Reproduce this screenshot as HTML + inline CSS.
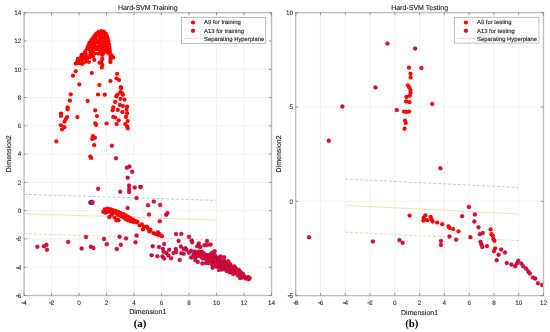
<!DOCTYPE html>
<html><head><meta charset="utf-8"><style>
html,body{margin:0;padding:0;background:#fff;width:550px;height:332px;overflow:hidden}
svg{display:block} text{text-rendering:geometricPrecision;stroke:#262626;stroke-width:0.14px;paint-order:stroke}
</style></head><body>
<svg width="550" height="332" viewBox="0 0 550 332" font-family="Liberation Sans, Arial, sans-serif">
<rect width="550" height="332" fill="#fff"/>
<line x1="51.54" y1="12.7" x2="51.54" y2="295.5" stroke="#efefef" stroke-width="0.8"/>
<line x1="79.04" y1="12.7" x2="79.04" y2="295.5" stroke="#efefef" stroke-width="0.8"/>
<line x1="106.53" y1="12.7" x2="106.53" y2="295.5" stroke="#efefef" stroke-width="0.8"/>
<line x1="134.03" y1="12.7" x2="134.03" y2="295.5" stroke="#efefef" stroke-width="0.8"/>
<line x1="161.52" y1="12.7" x2="161.52" y2="295.5" stroke="#efefef" stroke-width="0.8"/>
<line x1="189.02" y1="12.7" x2="189.02" y2="295.5" stroke="#efefef" stroke-width="0.8"/>
<line x1="216.51" y1="12.7" x2="216.51" y2="295.5" stroke="#efefef" stroke-width="0.8"/>
<line x1="244.01" y1="12.7" x2="244.01" y2="295.5" stroke="#efefef" stroke-width="0.8"/>
<line x1="24.05" y1="267.22" x2="271.5" y2="267.22" stroke="#efefef" stroke-width="0.8"/>
<line x1="24.05" y1="238.94" x2="271.5" y2="238.94" stroke="#efefef" stroke-width="0.8"/>
<line x1="24.05" y1="210.66" x2="271.5" y2="210.66" stroke="#efefef" stroke-width="0.8"/>
<line x1="24.05" y1="182.38" x2="271.5" y2="182.38" stroke="#efefef" stroke-width="0.8"/>
<line x1="24.05" y1="154.10" x2="271.5" y2="154.10" stroke="#efefef" stroke-width="0.8"/>
<line x1="24.05" y1="125.82" x2="271.5" y2="125.82" stroke="#efefef" stroke-width="0.8"/>
<line x1="24.05" y1="97.54" x2="271.5" y2="97.54" stroke="#efefef" stroke-width="0.8"/>
<line x1="24.05" y1="69.26" x2="271.5" y2="69.26" stroke="#efefef" stroke-width="0.8"/>
<line x1="24.05" y1="40.98" x2="271.5" y2="40.98" stroke="#efefef" stroke-width="0.8"/>
<line x1="24.10" y1="194.30" x2="216.60" y2="200.40" stroke="#cfaadc" stroke-width="0.8" stroke-dasharray="3,1.9"/>
<line x1="24.10" y1="213.80" x2="216.60" y2="220.10" stroke="#fbd79c" stroke-width="0.8"/>
<line x1="24.10" y1="233.60" x2="216.60" y2="240.00" stroke="#c6dca8" stroke-width="0.8" stroke-dasharray="3,1.9"/>
<polygon points="98.51,31.94 96.11,33.74 94.09,36.32 92.03,39.06 89.4,42.92 87.98,46.87 87.91,47.05 85.31,52.55 85.21,52.73 85.1,52.89 84.98,53.05 81.88,56.45 81.68,56.64 78.93,58.93 76.68,62.57 76.75,62.76 78.83,63.17 82.66,62.55 86.94,61.28 89.41,57.64 91.47,54.09 91.58,53.93 91.69,53.78 91.82,53.65 91.97,53.52 92.12,53.41 92.29,53.32 92.46,53.24 92.64,53.18 92.82,53.14 93.01,53.11 93.2,53.1 96.8,53.1 96.98,53.11 97.16,53.13 97.33,53.17 97.5,53.23 97.67,53.3 99.16,54.02 99.21,53.97 99.37,53.85 99.54,53.75 99.71,53.66 99.9,53.59 100.09,53.54 100.28,53.51 103.36,53.17 105.04,51.97 105.21,51.86 105.39,51.77 105.57,51.7 105.77,51.65 105.96,51.61 106.16,51.6 106.36,51.61 106.56,51.63 106.76,51.68 106.95,51.75 107.13,51.83 107.3,51.93 107.47,52.05 107.61,52.19 109.77,54.34 110.6,55.07 110.1,53.52 110.04,53.31 110.01,53.09 109.32,45.99 107.97,39.05 105.98,33.81 103.73,31.56 101.82,30.94 100.34,31.14 98.51,31.94" fill="#ff0000"/>
<polygon points="103.35,211.76 103.46,212.59 103.89,212.85 106.49,212.64 109.67,211.18 109.86,211.11 110.05,211.05 110.25,211.02 110.45,211.0 110.65,211.01 110.85,211.03 111.05,211.08 114.55,212.08 114.75,212.14 114.94,212.23 115.11,212.34 115.28,212.46 118.1,214.81 122.89,217.21 123.03,217.29 123.16,217.37 127.37,220.37 131.28,221.46 136.31,222.54 137.02,222.69 136.78,221.81 132.69,219.43 132.67,219.42 125.57,215.18 118.46,211.96 115.35,210.89 115.34,210.89 109.52,208.85 106.6,208.43 105.1,208.79 104.04,210.05 103.35,211.76" fill="#ff0000"/>
<circle cx="98.5" cy="31.9" r="2.12" fill="#ff0000"/>
<circle cx="96.3" cy="33.6" r="2.12" fill="#ff0000"/>
<circle cx="94.5" cy="35.8" r="2.12" fill="#ff0000"/>
<circle cx="92.8" cy="38.0" r="2.12" fill="#ff0000"/>
<circle cx="91.2" cy="40.3" r="2.12" fill="#ff0000"/>
<circle cx="89.6" cy="42.6" r="2.12" fill="#ff0000"/>
<circle cx="88.6" cy="45.2" r="2.12" fill="#ff0000"/>
<circle cx="87.5" cy="47.9" r="2.12" fill="#ff0000"/>
<circle cx="86.3" cy="50.4" r="2.12" fill="#ff0000"/>
<circle cx="85.1" cy="52.9" r="2.12" fill="#ff0000"/>
<circle cx="83.2" cy="55.0" r="2.12" fill="#ff0000"/>
<circle cx="81.2" cy="57.0" r="2.12" fill="#ff0000"/>
<circle cx="79.1" cy="58.8" r="2.12" fill="#ff0000"/>
<circle cx="77.6" cy="61.1" r="2.12" fill="#ff0000"/>
<circle cx="77.7" cy="62.9" r="2.12" fill="#ff0000"/>
<circle cx="80.4" cy="62.9" r="2.12" fill="#ff0000"/>
<circle cx="83.2" cy="62.4" r="2.12" fill="#ff0000"/>
<circle cx="85.9" cy="61.6" r="2.12" fill="#ff0000"/>
<circle cx="87.9" cy="59.9" r="2.12" fill="#ff0000"/>
<circle cx="89.5" cy="57.5" r="2.12" fill="#ff0000"/>
<circle cx="90.9" cy="55.1" r="2.12" fill="#ff0000"/>
<circle cx="92.7" cy="53.2" r="2.12" fill="#ff0000"/>
<circle cx="95.5" cy="53.1" r="2.12" fill="#ff0000"/>
<circle cx="98.2" cy="53.6" r="2.12" fill="#ff0000"/>
<circle cx="100.8" cy="53.5" r="2.12" fill="#ff0000"/>
<circle cx="103.6" cy="53.0" r="2.12" fill="#ff0000"/>
<circle cx="106.0" cy="51.6" r="2.12" fill="#ff0000"/>
<circle cx="108.3" cy="52.9" r="2.12" fill="#ff0000"/>
<circle cx="110.3" cy="54.8" r="2.12" fill="#ff0000"/>
<circle cx="110.0" cy="52.7" r="2.12" fill="#ff0000"/>
<circle cx="109.7" cy="49.9" r="2.12" fill="#ff0000"/>
<circle cx="109.4" cy="47.1" r="2.12" fill="#ff0000"/>
<circle cx="109.0" cy="44.3" r="2.12" fill="#ff0000"/>
<circle cx="108.5" cy="41.6" r="2.12" fill="#ff0000"/>
<circle cx="107.9" cy="38.8" r="2.12" fill="#ff0000"/>
<circle cx="106.9" cy="36.2" r="2.12" fill="#ff0000"/>
<circle cx="105.8" cy="33.6" r="2.12" fill="#ff0000"/>
<circle cx="103.8" cy="31.6" r="2.12" fill="#ff0000"/>
<circle cx="101.2" cy="31.0" r="2.12" fill="#ff0000"/>
<circle cx="103.3" cy="211.8" r="2.12" fill="#ff0000"/>
<circle cx="105.4" cy="212.7" r="2.12" fill="#ff0000"/>
<circle cx="108.1" cy="211.9" r="2.12" fill="#ff0000"/>
<circle cx="110.7" cy="211.0" r="2.12" fill="#ff0000"/>
<circle cx="113.5" cy="211.8" r="2.12" fill="#ff0000"/>
<circle cx="116.0" cy="213.1" r="2.12" fill="#ff0000"/>
<circle cx="118.2" cy="214.9" r="2.12" fill="#ff0000"/>
<circle cx="120.7" cy="216.1" r="2.12" fill="#ff0000"/>
<circle cx="123.3" cy="217.4" r="2.12" fill="#ff0000"/>
<circle cx="125.6" cy="219.1" r="2.12" fill="#ff0000"/>
<circle cx="128.0" cy="220.5" r="2.12" fill="#ff0000"/>
<circle cx="130.8" cy="221.3" r="2.12" fill="#ff0000"/>
<circle cx="133.5" cy="221.9" r="2.12" fill="#ff0000"/>
<circle cx="136.3" cy="222.5" r="2.12" fill="#ff0000"/>
<circle cx="135.7" cy="221.2" r="2.12" fill="#ff0000"/>
<circle cx="133.3" cy="219.8" r="2.12" fill="#ff0000"/>
<circle cx="130.8" cy="218.3" r="2.12" fill="#ff0000"/>
<circle cx="128.4" cy="216.8" r="2.12" fill="#ff0000"/>
<circle cx="125.9" cy="215.4" r="2.12" fill="#ff0000"/>
<circle cx="123.3" cy="214.2" r="2.12" fill="#ff0000"/>
<circle cx="120.7" cy="213.0" r="2.12" fill="#ff0000"/>
<circle cx="118.1" cy="211.8" r="2.12" fill="#ff0000"/>
<circle cx="115.4" cy="210.9" r="2.12" fill="#ff0000"/>
<circle cx="112.8" cy="210.0" r="2.12" fill="#ff0000"/>
<circle cx="110.1" cy="209.0" r="2.12" fill="#ff0000"/>
<circle cx="107.3" cy="208.5" r="2.12" fill="#ff0000"/>
<circle cx="104.7" cy="209.3" r="2.12" fill="#ff0000"/>
<circle cx="78.7" cy="59.2" r="2.12" fill="#ff0000"/>
<circle cx="75.7" cy="63.7" r="2.12" fill="#ff0000"/>
<circle cx="79.3" cy="62.8" r="2.12" fill="#ff0000"/>
<circle cx="82.3" cy="64.0" r="2.12" fill="#ff0000"/>
<circle cx="85.9" cy="59.8" r="2.12" fill="#ff0000"/>
<circle cx="88.9" cy="62.0" r="2.12" fill="#ff0000"/>
<circle cx="94.3" cy="59.8" r="2.12" fill="#ff0000"/>
<circle cx="77.9" cy="58.8" r="2.12" fill="#ff0000"/>
<circle cx="79.9" cy="61.1" r="2.12" fill="#ff0000"/>
<circle cx="85.7" cy="56.8" r="2.12" fill="#ff0000"/>
<circle cx="99.5" cy="62.7" r="2.12" fill="#ff0000"/>
<circle cx="87.8" cy="58.5" r="2.12" fill="#ff0000"/>
<circle cx="81.6" cy="54.8" r="2.12" fill="#ff0000"/>
<circle cx="84.8" cy="52.6" r="2.12" fill="#ff0000"/>
<circle cx="89.7" cy="56.6" r="2.12" fill="#ff0000"/>
<circle cx="93.0" cy="56.5" r="2.12" fill="#ff0000"/>
<circle cx="102.3" cy="55.0" r="2.12" fill="#ff0000"/>
<circle cx="102.3" cy="58.9" r="2.12" fill="#ff0000"/>
<circle cx="101.3" cy="62.1" r="2.12" fill="#ff0000"/>
<circle cx="102.3" cy="64.8" r="2.12" fill="#ff0000"/>
<circle cx="101.8" cy="67.5" r="2.12" fill="#ff0000"/>
<circle cx="110.5" cy="57.0" r="2.12" fill="#ff0000"/>
<circle cx="110.4" cy="59.8" r="2.12" fill="#ff0000"/>
<circle cx="110.4" cy="62.1" r="2.12" fill="#ff0000"/>
<circle cx="111.9" cy="55.7" r="2.12" fill="#ff0000"/>
<circle cx="113.2" cy="57.5" r="2.12" fill="#ff0000"/>
<circle cx="75.7" cy="71.3" r="2.12" fill="#ff0000"/>
<circle cx="73.0" cy="75.7" r="2.12" fill="#ff0000"/>
<circle cx="91.8" cy="73.0" r="2.12" fill="#ff0000"/>
<circle cx="79.3" cy="84.4" r="2.12" fill="#ff0000"/>
<circle cx="99.4" cy="85.0" r="2.12" fill="#ff0000"/>
<circle cx="70.8" cy="94.3" r="2.12" fill="#ff0000"/>
<circle cx="69.9" cy="100.7" r="2.12" fill="#ff0000"/>
<circle cx="87.6" cy="100.9" r="2.12" fill="#ff0000"/>
<circle cx="67.6" cy="107.4" r="2.12" fill="#ff0000"/>
<circle cx="67.6" cy="109.3" r="2.12" fill="#ff0000"/>
<circle cx="61.0" cy="113.7" r="2.12" fill="#ff0000"/>
<circle cx="61.0" cy="116.0" r="2.12" fill="#ff0000"/>
<circle cx="67.1" cy="117.1" r="2.12" fill="#ff0000"/>
<circle cx="65.7" cy="119.0" r="2.12" fill="#ff0000"/>
<circle cx="64.6" cy="121.6" r="2.12" fill="#ff0000"/>
<circle cx="61.0" cy="125.3" r="2.12" fill="#ff0000"/>
<circle cx="64.4" cy="127.2" r="2.12" fill="#ff0000"/>
<circle cx="62.0" cy="129.5" r="2.12" fill="#ff0000"/>
<circle cx="77.4" cy="117.1" r="2.12" fill="#ff0000"/>
<circle cx="56.3" cy="141.4" r="2.12" fill="#ff0000"/>
<circle cx="98.0" cy="94.5" r="2.12" fill="#ff0000"/>
<circle cx="104.8" cy="94.7" r="2.12" fill="#ff0000"/>
<circle cx="117.1" cy="73.8" r="2.12" fill="#ff0000"/>
<circle cx="116.5" cy="78.3" r="2.12" fill="#ff0000"/>
<circle cx="119.0" cy="80.0" r="2.12" fill="#ff0000"/>
<circle cx="110.4" cy="81.0" r="2.12" fill="#ff0000"/>
<circle cx="120.8" cy="87.0" r="2.12" fill="#ff0000"/>
<circle cx="121.1" cy="88.3" r="2.12" fill="#ff0000"/>
<circle cx="120.5" cy="92.2" r="2.12" fill="#ff0000"/>
<circle cx="122.3" cy="93.4" r="2.12" fill="#ff0000"/>
<circle cx="117.5" cy="94.6" r="2.12" fill="#ff0000"/>
<circle cx="116.3" cy="96.4" r="2.12" fill="#ff0000"/>
<circle cx="122.9" cy="94.8" r="2.12" fill="#ff0000"/>
<circle cx="120.5" cy="98.8" r="2.12" fill="#ff0000"/>
<circle cx="124.5" cy="99.6" r="2.12" fill="#ff0000"/>
<circle cx="115.1" cy="101.9" r="2.12" fill="#ff0000"/>
<circle cx="119.9" cy="104.9" r="2.12" fill="#ff0000"/>
<circle cx="122.9" cy="106.1" r="2.12" fill="#ff0000"/>
<circle cx="127.1" cy="106.7" r="2.12" fill="#ff0000"/>
<circle cx="113.3" cy="107.3" r="2.12" fill="#ff0000"/>
<circle cx="112.7" cy="110.3" r="2.12" fill="#ff0000"/>
<circle cx="117.8" cy="109.9" r="2.12" fill="#ff0000"/>
<circle cx="126.5" cy="109.7" r="2.12" fill="#ff0000"/>
<circle cx="122.3" cy="112.1" r="2.12" fill="#ff0000"/>
<circle cx="127.1" cy="113.3" r="2.12" fill="#ff0000"/>
<circle cx="113.3" cy="116.9" r="2.12" fill="#ff0000"/>
<circle cx="115.1" cy="117.5" r="2.12" fill="#ff0000"/>
<circle cx="125.9" cy="116.9" r="2.12" fill="#ff0000"/>
<circle cx="118.7" cy="120.3" r="2.12" fill="#ff0000"/>
<circle cx="127.7" cy="121.1" r="2.12" fill="#ff0000"/>
<circle cx="106.6" cy="123.5" r="2.12" fill="#ff0000"/>
<circle cx="116.6" cy="124.1" r="2.12" fill="#ff0000"/>
<circle cx="125.3" cy="124.1" r="2.12" fill="#ff0000"/>
<circle cx="127.2" cy="126.4" r="2.12" fill="#ff0000"/>
<circle cx="127.8" cy="128.4" r="2.12" fill="#ff0000"/>
<circle cx="95.2" cy="110.3" r="2.12" fill="#ff0000"/>
<circle cx="97.0" cy="116.1" r="2.12" fill="#ff0000"/>
<circle cx="95.2" cy="123.3" r="2.12" fill="#ff0000"/>
<circle cx="96.1" cy="124.8" r="2.12" fill="#ff0000"/>
<circle cx="93.0" cy="136.2" r="2.12" fill="#ff0000"/>
<circle cx="94.9" cy="137.8" r="2.12" fill="#ff0000"/>
<circle cx="92.2" cy="138.9" r="2.12" fill="#ff0000"/>
<circle cx="94.2" cy="145.2" r="2.12" fill="#ff0000"/>
<circle cx="90.3" cy="156.5" r="2.12" fill="#ff0000"/>
<circle cx="91.2" cy="158.0" r="2.12" fill="#ff0000"/>
<circle cx="114.5" cy="217.5" r="2.12" fill="#ff0000"/>
<circle cx="117.5" cy="219.5" r="2.12" fill="#ff0000"/>
<circle cx="116.3" cy="220.3" r="2.12" fill="#ff0000"/>
<circle cx="109.3" cy="217.2" r="2.12" fill="#ff0000"/>
<circle cx="118.5" cy="220.3" r="2.12" fill="#ff0000"/>
<circle cx="139.6" cy="225.4" r="2.12" fill="#ff0000"/>
<circle cx="141.8" cy="224.3" r="2.12" fill="#ff0000"/>
<circle cx="142.9" cy="229.4" r="2.12" fill="#ff0000"/>
<circle cx="144.0" cy="226.8" r="2.12" fill="#ff0000"/>
<circle cx="146.5" cy="226.5" r="2.12" fill="#ff0000"/>
<circle cx="147.6" cy="227.9" r="2.12" fill="#ff0000"/>
<circle cx="149.4" cy="230.1" r="2.12" fill="#ff0000"/>
<circle cx="150.5" cy="229.7" r="2.12" fill="#ff0000"/>
<circle cx="149.4" cy="231.5" r="2.12" fill="#ff0000"/>
<circle cx="153.4" cy="233.0" r="2.12" fill="#ff0000"/>
<circle cx="155.5" cy="234.0" r="2.12" fill="#ff0000"/>
<circle cx="158.0" cy="235.0" r="2.12" fill="#ff0000"/>
<circle cx="159.5" cy="234.1" r="2.12" fill="#ff0000"/>
<circle cx="160.9" cy="235.5" r="2.12" fill="#ff0000"/>
<circle cx="162.0" cy="236.2" r="2.12" fill="#ff0000"/>
<circle cx="137.4" cy="221.8" r="2.12" fill="#ff0000"/>
<circle cx="97.7" cy="37.9" r="0.7" fill="#ffb0b0"/>
<circle cx="97.0" cy="44.6" r="0.7" fill="#ffb0b0"/>
<circle cx="88.3" cy="53.2" r="0.7" fill="#ffb0b0"/>
<circle cx="88.1" cy="55.0" r="0.7" fill="#ffb0b0"/>
<ellipse cx="87.9" cy="52" rx="0.6" ry="1.5" fill="#fff4f4"/>
<ellipse cx="96.5" cy="51.6" rx="2.0" ry="0.6" fill="#fff4f4"/>
<ellipse cx="89.5" cy="59.8" rx="0.7" ry="0.7" fill="#fff4f4"/>
<ellipse cx="83.9" cy="60.8" rx="0.6" ry="0.6" fill="#fff4f4"/>
<circle cx="194.8" cy="251.6" r="1.98" fill="#ff0000" stroke="#1a1aff" stroke-width="0.32"/>
<circle cx="198.9" cy="251.6" r="1.98" fill="#ff0000" stroke="#1a1aff" stroke-width="0.32"/>
<circle cx="201.8" cy="251.7" r="1.98" fill="#ff0000" stroke="#1a1aff" stroke-width="0.32"/>
<circle cx="193.7" cy="254.8" r="1.98" fill="#ff0000" stroke="#1a1aff" stroke-width="0.32"/>
<circle cx="196.8" cy="255.2" r="1.98" fill="#ff0000" stroke="#1a1aff" stroke-width="0.32"/>
<circle cx="200.4" cy="254.6" r="1.98" fill="#ff0000" stroke="#1a1aff" stroke-width="0.32"/>
<circle cx="203.4" cy="255.1" r="1.98" fill="#ff0000" stroke="#1a1aff" stroke-width="0.32"/>
<circle cx="207.1" cy="255.0" r="1.98" fill="#ff0000" stroke="#1a1aff" stroke-width="0.32"/>
<circle cx="210.3" cy="254.4" r="1.98" fill="#ff0000" stroke="#1a1aff" stroke-width="0.32"/>
<circle cx="213.9" cy="255.0" r="1.98" fill="#ff0000" stroke="#1a1aff" stroke-width="0.32"/>
<circle cx="202.2" cy="257.6" r="1.98" fill="#ff0000" stroke="#1a1aff" stroke-width="0.32"/>
<circle cx="205.0" cy="257.3" r="1.98" fill="#ff0000" stroke="#1a1aff" stroke-width="0.32"/>
<circle cx="208.7" cy="257.8" r="1.98" fill="#ff0000" stroke="#1a1aff" stroke-width="0.32"/>
<circle cx="212.5" cy="257.6" r="1.98" fill="#ff0000" stroke="#1a1aff" stroke-width="0.32"/>
<circle cx="215.9" cy="257.8" r="1.98" fill="#ff0000" stroke="#1a1aff" stroke-width="0.32"/>
<circle cx="218.9" cy="257.5" r="1.98" fill="#ff0000" stroke="#1a1aff" stroke-width="0.32"/>
<circle cx="206.7" cy="260.2" r="1.98" fill="#ff0000" stroke="#1a1aff" stroke-width="0.32"/>
<circle cx="210.9" cy="260.3" r="1.98" fill="#ff0000" stroke="#1a1aff" stroke-width="0.32"/>
<circle cx="213.4" cy="260.9" r="1.98" fill="#ff0000" stroke="#1a1aff" stroke-width="0.32"/>
<circle cx="216.9" cy="260.9" r="1.98" fill="#ff0000" stroke="#1a1aff" stroke-width="0.32"/>
<circle cx="220.9" cy="260.9" r="1.98" fill="#ff0000" stroke="#1a1aff" stroke-width="0.32"/>
<circle cx="224.6" cy="260.7" r="1.98" fill="#ff0000" stroke="#1a1aff" stroke-width="0.32"/>
<circle cx="212.6" cy="263.2" r="1.98" fill="#ff0000" stroke="#1a1aff" stroke-width="0.32"/>
<circle cx="215.2" cy="263.8" r="1.98" fill="#ff0000" stroke="#1a1aff" stroke-width="0.32"/>
<circle cx="219.4" cy="263.6" r="1.98" fill="#ff0000" stroke="#1a1aff" stroke-width="0.32"/>
<circle cx="222.3" cy="263.8" r="1.98" fill="#ff0000" stroke="#1a1aff" stroke-width="0.32"/>
<circle cx="225.5" cy="263.3" r="1.98" fill="#ff0000" stroke="#1a1aff" stroke-width="0.32"/>
<circle cx="228.9" cy="263.6" r="1.98" fill="#ff0000" stroke="#1a1aff" stroke-width="0.32"/>
<circle cx="217.3" cy="266.2" r="1.98" fill="#ff0000" stroke="#1a1aff" stroke-width="0.32"/>
<circle cx="220.4" cy="266.7" r="1.98" fill="#ff0000" stroke="#1a1aff" stroke-width="0.32"/>
<circle cx="224.3" cy="267.0" r="1.98" fill="#ff0000" stroke="#1a1aff" stroke-width="0.32"/>
<circle cx="227.8" cy="266.2" r="1.98" fill="#ff0000" stroke="#1a1aff" stroke-width="0.32"/>
<circle cx="230.6" cy="266.3" r="1.98" fill="#ff0000" stroke="#1a1aff" stroke-width="0.32"/>
<circle cx="234.0" cy="266.7" r="1.98" fill="#ff0000" stroke="#1a1aff" stroke-width="0.32"/>
<circle cx="222.2" cy="269.6" r="1.98" fill="#ff0000" stroke="#1a1aff" stroke-width="0.32"/>
<circle cx="225.9" cy="269.8" r="1.98" fill="#ff0000" stroke="#1a1aff" stroke-width="0.32"/>
<circle cx="229.0" cy="269.7" r="1.98" fill="#ff0000" stroke="#1a1aff" stroke-width="0.32"/>
<circle cx="233.1" cy="269.6" r="1.98" fill="#ff0000" stroke="#1a1aff" stroke-width="0.32"/>
<circle cx="236.0" cy="269.1" r="1.98" fill="#ff0000" stroke="#1a1aff" stroke-width="0.32"/>
<circle cx="230.7" cy="272.3" r="1.98" fill="#ff0000" stroke="#1a1aff" stroke-width="0.32"/>
<circle cx="234.3" cy="272.7" r="1.98" fill="#ff0000" stroke="#1a1aff" stroke-width="0.32"/>
<circle cx="237.6" cy="272.7" r="1.98" fill="#ff0000" stroke="#1a1aff" stroke-width="0.32"/>
<circle cx="240.7" cy="272.2" r="1.98" fill="#ff0000" stroke="#1a1aff" stroke-width="0.32"/>
<circle cx="239.1" cy="275.4" r="1.98" fill="#ff0000" stroke="#1a1aff" stroke-width="0.32"/>
<circle cx="242.3" cy="275.3" r="1.98" fill="#ff0000" stroke="#1a1aff" stroke-width="0.32"/>
<circle cx="111.9" cy="145.7" r="1.98" fill="#ff0000" stroke="#1a1aff" stroke-width="0.32"/>
<circle cx="116.0" cy="158.2" r="1.98" fill="#ff0000" stroke="#1a1aff" stroke-width="0.32"/>
<circle cx="126.8" cy="167.8" r="1.98" fill="#ff0000" stroke="#1a1aff" stroke-width="0.32"/>
<circle cx="129.5" cy="166.6" r="1.98" fill="#ff0000" stroke="#1a1aff" stroke-width="0.32"/>
<circle cx="132.2" cy="171.8" r="1.98" fill="#ff0000" stroke="#1a1aff" stroke-width="0.32"/>
<circle cx="127.7" cy="177.8" r="1.98" fill="#ff0000" stroke="#1a1aff" stroke-width="0.32"/>
<circle cx="129.1" cy="185.5" r="1.98" fill="#ff0000" stroke="#1a1aff" stroke-width="0.32"/>
<circle cx="129.1" cy="188.9" r="1.98" fill="#ff0000" stroke="#1a1aff" stroke-width="0.32"/>
<circle cx="129.1" cy="191.9" r="1.98" fill="#ff0000" stroke="#1a1aff" stroke-width="0.32"/>
<circle cx="134.7" cy="187.5" r="1.98" fill="#ff0000" stroke="#1a1aff" stroke-width="0.32"/>
<circle cx="140.3" cy="187.1" r="1.98" fill="#ff0000" stroke="#1a1aff" stroke-width="0.32"/>
<circle cx="120.2" cy="191.7" r="1.98" fill="#ff0000" stroke="#1a1aff" stroke-width="0.32"/>
<circle cx="136.5" cy="198.0" r="1.98" fill="#ff0000" stroke="#1a1aff" stroke-width="0.32"/>
<circle cx="127.6" cy="208.0" r="1.98" fill="#ff0000" stroke="#1a1aff" stroke-width="0.32"/>
<circle cx="140.8" cy="187.0" r="1.98" fill="#ff0000" stroke="#1a1aff" stroke-width="0.32"/>
<circle cx="148.0" cy="205.3" r="1.98" fill="#ff0000" stroke="#1a1aff" stroke-width="0.32"/>
<circle cx="153.8" cy="201.6" r="1.98" fill="#ff0000" stroke="#1a1aff" stroke-width="0.32"/>
<circle cx="160.2" cy="205.0" r="1.98" fill="#ff0000" stroke="#1a1aff" stroke-width="0.32"/>
<circle cx="149.0" cy="214.6" r="1.98" fill="#ff0000" stroke="#1a1aff" stroke-width="0.32"/>
<circle cx="166.2" cy="214.8" r="1.98" fill="#ff0000" stroke="#1a1aff" stroke-width="0.32"/>
<circle cx="167.4" cy="213.0" r="1.98" fill="#ff0000" stroke="#1a1aff" stroke-width="0.32"/>
<circle cx="159.8" cy="221.3" r="1.98" fill="#ff0000" stroke="#1a1aff" stroke-width="0.32"/>
<circle cx="157.9" cy="232.2" r="1.98" fill="#ff0000" stroke="#1a1aff" stroke-width="0.32"/>
<circle cx="136.5" cy="235.6" r="1.98" fill="#ff0000" stroke="#1a1aff" stroke-width="0.32"/>
<circle cx="98.1" cy="188.8" r="1.98" fill="#ff0000" stroke="#1a1aff" stroke-width="0.32"/>
<circle cx="111.8" cy="214.5" r="1.98" fill="#ff0000" stroke="#1a1aff" stroke-width="0.32"/>
<circle cx="37.4" cy="246.8" r="1.98" fill="#ff0000" stroke="#1a1aff" stroke-width="0.32"/>
<circle cx="43.9" cy="246.3" r="1.98" fill="#ff0000" stroke="#1a1aff" stroke-width="0.32"/>
<circle cx="46.5" cy="244.8" r="1.98" fill="#ff0000" stroke="#1a1aff" stroke-width="0.32"/>
<circle cx="47.0" cy="249.7" r="1.98" fill="#ff0000" stroke="#1a1aff" stroke-width="0.32"/>
<circle cx="68.1" cy="241.9" r="1.98" fill="#ff0000" stroke="#1a1aff" stroke-width="0.32"/>
<circle cx="86.0" cy="236.9" r="1.98" fill="#ff0000" stroke="#1a1aff" stroke-width="0.32"/>
<circle cx="81.7" cy="248.4" r="1.98" fill="#ff0000" stroke="#1a1aff" stroke-width="0.32"/>
<circle cx="90.9" cy="246.8" r="1.98" fill="#ff0000" stroke="#1a1aff" stroke-width="0.32"/>
<circle cx="93.5" cy="248.0" r="1.98" fill="#ff0000" stroke="#1a1aff" stroke-width="0.32"/>
<circle cx="104.0" cy="239.1" r="1.98" fill="#ff0000" stroke="#1a1aff" stroke-width="0.32"/>
<circle cx="106.8" cy="244.2" r="1.98" fill="#ff0000" stroke="#1a1aff" stroke-width="0.32"/>
<circle cx="119.6" cy="236.7" r="1.98" fill="#ff0000" stroke="#1a1aff" stroke-width="0.32"/>
<circle cx="126.0" cy="238.4" r="1.98" fill="#ff0000" stroke="#1a1aff" stroke-width="0.32"/>
<circle cx="120.9" cy="244.8" r="1.98" fill="#ff0000" stroke="#1a1aff" stroke-width="0.32"/>
<circle cx="116.8" cy="249.0" r="1.98" fill="#ff0000" stroke="#1a1aff" stroke-width="0.32"/>
<circle cx="135.5" cy="242.3" r="1.98" fill="#ff0000" stroke="#1a1aff" stroke-width="0.32"/>
<circle cx="176.0" cy="234.0" r="1.98" fill="#ff0000" stroke="#1a1aff" stroke-width="0.32"/>
<circle cx="181.3" cy="234.0" r="1.98" fill="#ff0000" stroke="#1a1aff" stroke-width="0.32"/>
<circle cx="189.0" cy="236.7" r="1.98" fill="#ff0000" stroke="#1a1aff" stroke-width="0.32"/>
<circle cx="178.6" cy="241.0" r="1.98" fill="#ff0000" stroke="#1a1aff" stroke-width="0.32"/>
<circle cx="152.7" cy="246.2" r="1.98" fill="#ff0000" stroke="#1a1aff" stroke-width="0.32"/>
<circle cx="159.0" cy="247.0" r="1.98" fill="#ff0000" stroke="#1a1aff" stroke-width="0.32"/>
<circle cx="164.1" cy="244.1" r="1.98" fill="#ff0000" stroke="#1a1aff" stroke-width="0.32"/>
<circle cx="162.9" cy="249.0" r="1.98" fill="#ff0000" stroke="#1a1aff" stroke-width="0.32"/>
<circle cx="163.7" cy="251.7" r="1.98" fill="#ff0000" stroke="#1a1aff" stroke-width="0.32"/>
<circle cx="166.4" cy="252.9" r="1.98" fill="#ff0000" stroke="#1a1aff" stroke-width="0.32"/>
<circle cx="169.2" cy="249.7" r="1.98" fill="#ff0000" stroke="#1a1aff" stroke-width="0.32"/>
<circle cx="168.4" cy="255.6" r="1.98" fill="#ff0000" stroke="#1a1aff" stroke-width="0.32"/>
<circle cx="171.1" cy="258.2" r="1.98" fill="#ff0000" stroke="#1a1aff" stroke-width="0.32"/>
<circle cx="151.6" cy="255.2" r="1.98" fill="#ff0000" stroke="#1a1aff" stroke-width="0.32"/>
<circle cx="157.4" cy="256.2" r="1.98" fill="#ff0000" stroke="#1a1aff" stroke-width="0.32"/>
<circle cx="162.5" cy="256.4" r="1.98" fill="#ff0000" stroke="#1a1aff" stroke-width="0.32"/>
<circle cx="164.1" cy="258.4" r="1.98" fill="#ff0000" stroke="#1a1aff" stroke-width="0.32"/>
<circle cx="173.5" cy="252.9" r="1.98" fill="#ff0000" stroke="#1a1aff" stroke-width="0.32"/>
<circle cx="175.8" cy="249.0" r="1.98" fill="#ff0000" stroke="#1a1aff" stroke-width="0.32"/>
<circle cx="176.2" cy="252.1" r="1.98" fill="#ff0000" stroke="#1a1aff" stroke-width="0.32"/>
<circle cx="180.9" cy="246.6" r="1.98" fill="#ff0000" stroke="#1a1aff" stroke-width="0.32"/>
<circle cx="183.7" cy="249.0" r="1.98" fill="#ff0000" stroke="#1a1aff" stroke-width="0.32"/>
<circle cx="181.3" cy="253.3" r="1.98" fill="#ff0000" stroke="#1a1aff" stroke-width="0.32"/>
<circle cx="183.7" cy="253.7" r="1.98" fill="#ff0000" stroke="#1a1aff" stroke-width="0.32"/>
<circle cx="179.7" cy="259.9" r="1.98" fill="#ff0000" stroke="#1a1aff" stroke-width="0.32"/>
<circle cx="191.6" cy="240.6" r="1.98" fill="#ff0000" stroke="#1a1aff" stroke-width="0.32"/>
<circle cx="192.2" cy="242.3" r="1.98" fill="#ff0000" stroke="#1a1aff" stroke-width="0.32"/>
<circle cx="207.0" cy="241.1" r="1.98" fill="#ff0000" stroke="#1a1aff" stroke-width="0.32"/>
<circle cx="198.8" cy="243.6" r="1.98" fill="#ff0000" stroke="#1a1aff" stroke-width="0.32"/>
<circle cx="197.3" cy="246.2" r="1.98" fill="#ff0000" stroke="#1a1aff" stroke-width="0.32"/>
<circle cx="200.3" cy="247.0" r="1.98" fill="#ff0000" stroke="#1a1aff" stroke-width="0.32"/>
<circle cx="204.4" cy="245.2" r="1.98" fill="#ff0000" stroke="#1a1aff" stroke-width="0.32"/>
<circle cx="207.0" cy="245.0" r="1.98" fill="#ff0000" stroke="#1a1aff" stroke-width="0.32"/>
<circle cx="210.6" cy="244.6" r="1.98" fill="#ff0000" stroke="#1a1aff" stroke-width="0.32"/>
<circle cx="185.5" cy="248.2" r="1.98" fill="#ff0000" stroke="#1a1aff" stroke-width="0.32"/>
<circle cx="186.5" cy="249.8" r="1.98" fill="#ff0000" stroke="#1a1aff" stroke-width="0.32"/>
<circle cx="189.1" cy="252.8" r="1.98" fill="#ff0000" stroke="#1a1aff" stroke-width="0.32"/>
<circle cx="191.1" cy="250.8" r="1.98" fill="#ff0000" stroke="#1a1aff" stroke-width="0.32"/>
<circle cx="193.7" cy="254.4" r="1.98" fill="#ff0000" stroke="#1a1aff" stroke-width="0.32"/>
<circle cx="197.3" cy="252.8" r="1.98" fill="#ff0000" stroke="#1a1aff" stroke-width="0.32"/>
<circle cx="197.3" cy="255.9" r="1.98" fill="#ff0000" stroke="#1a1aff" stroke-width="0.32"/>
<circle cx="203.9" cy="253.3" r="1.98" fill="#ff0000" stroke="#1a1aff" stroke-width="0.32"/>
<circle cx="191.1" cy="257.4" r="1.98" fill="#ff0000" stroke="#1a1aff" stroke-width="0.32"/>
<circle cx="195.2" cy="257.4" r="1.98" fill="#ff0000" stroke="#1a1aff" stroke-width="0.32"/>
<circle cx="195.2" cy="260.0" r="1.98" fill="#ff0000" stroke="#1a1aff" stroke-width="0.32"/>
<circle cx="197.8" cy="262.0" r="1.98" fill="#ff0000" stroke="#1a1aff" stroke-width="0.32"/>
<circle cx="200.9" cy="256.4" r="1.98" fill="#ff0000" stroke="#1a1aff" stroke-width="0.32"/>
<circle cx="202.9" cy="258.5" r="1.98" fill="#ff0000" stroke="#1a1aff" stroke-width="0.32"/>
<circle cx="205.5" cy="256.9" r="1.98" fill="#ff0000" stroke="#1a1aff" stroke-width="0.32"/>
<circle cx="207.0" cy="260.0" r="1.98" fill="#ff0000" stroke="#1a1aff" stroke-width="0.32"/>
<circle cx="209.0" cy="256.4" r="1.98" fill="#ff0000" stroke="#1a1aff" stroke-width="0.32"/>
<circle cx="209.6" cy="259.5" r="1.98" fill="#ff0000" stroke="#1a1aff" stroke-width="0.32"/>
<circle cx="202.4" cy="263.6" r="1.98" fill="#ff0000" stroke="#1a1aff" stroke-width="0.32"/>
<circle cx="206.0" cy="263.1" r="1.98" fill="#ff0000" stroke="#1a1aff" stroke-width="0.32"/>
<circle cx="208.5" cy="263.1" r="1.98" fill="#ff0000" stroke="#1a1aff" stroke-width="0.32"/>
<circle cx="212.1" cy="252.8" r="1.98" fill="#ff0000" stroke="#1a1aff" stroke-width="0.32"/>
<circle cx="214.7" cy="251.3" r="1.98" fill="#ff0000" stroke="#1a1aff" stroke-width="0.32"/>
<circle cx="215.2" cy="255.4" r="1.98" fill="#ff0000" stroke="#1a1aff" stroke-width="0.32"/>
<circle cx="212.6" cy="260.0" r="1.98" fill="#ff0000" stroke="#1a1aff" stroke-width="0.32"/>
<circle cx="214.7" cy="260.0" r="1.98" fill="#ff0000" stroke="#1a1aff" stroke-width="0.32"/>
<circle cx="212.1" cy="264.6" r="1.98" fill="#ff0000" stroke="#1a1aff" stroke-width="0.32"/>
<circle cx="215.7" cy="263.6" r="1.98" fill="#ff0000" stroke="#1a1aff" stroke-width="0.32"/>
<circle cx="212.6" cy="267.7" r="1.98" fill="#ff0000" stroke="#1a1aff" stroke-width="0.32"/>
<circle cx="216.2" cy="266.6" r="1.98" fill="#ff0000" stroke="#1a1aff" stroke-width="0.32"/>
<circle cx="220.6" cy="256.6" r="1.98" fill="#ff0000" stroke="#1a1aff" stroke-width="0.32"/>
<circle cx="224.1" cy="257.2" r="1.98" fill="#ff0000" stroke="#1a1aff" stroke-width="0.32"/>
<circle cx="221.1" cy="260.2" r="1.98" fill="#ff0000" stroke="#1a1aff" stroke-width="0.32"/>
<circle cx="218.5" cy="259.7" r="1.98" fill="#ff0000" stroke="#1a1aff" stroke-width="0.32"/>
<circle cx="228.2" cy="261.3" r="1.98" fill="#ff0000" stroke="#1a1aff" stroke-width="0.32"/>
<circle cx="225.7" cy="263.3" r="1.98" fill="#ff0000" stroke="#1a1aff" stroke-width="0.32"/>
<circle cx="230.3" cy="264.3" r="1.98" fill="#ff0000" stroke="#1a1aff" stroke-width="0.32"/>
<circle cx="219.0" cy="264.3" r="1.98" fill="#ff0000" stroke="#1a1aff" stroke-width="0.32"/>
<circle cx="222.6" cy="265.3" r="1.98" fill="#ff0000" stroke="#1a1aff" stroke-width="0.32"/>
<circle cx="222.1" cy="268.4" r="1.98" fill="#ff0000" stroke="#1a1aff" stroke-width="0.32"/>
<circle cx="219.0" cy="270.0" r="1.98" fill="#ff0000" stroke="#1a1aff" stroke-width="0.32"/>
<circle cx="226.2" cy="266.4" r="1.98" fill="#ff0000" stroke="#1a1aff" stroke-width="0.32"/>
<circle cx="226.7" cy="271.0" r="1.98" fill="#ff0000" stroke="#1a1aff" stroke-width="0.32"/>
<circle cx="229.3" cy="272.0" r="1.98" fill="#ff0000" stroke="#1a1aff" stroke-width="0.32"/>
<circle cx="231.3" cy="267.9" r="1.98" fill="#ff0000" stroke="#1a1aff" stroke-width="0.32"/>
<circle cx="234.4" cy="266.4" r="1.98" fill="#ff0000" stroke="#1a1aff" stroke-width="0.32"/>
<circle cx="235.4" cy="268.4" r="1.98" fill="#ff0000" stroke="#1a1aff" stroke-width="0.32"/>
<circle cx="233.3" cy="271.0" r="1.98" fill="#ff0000" stroke="#1a1aff" stroke-width="0.32"/>
<circle cx="233.3" cy="274.0" r="1.98" fill="#ff0000" stroke="#1a1aff" stroke-width="0.32"/>
<circle cx="236.9" cy="272.0" r="1.98" fill="#ff0000" stroke="#1a1aff" stroke-width="0.32"/>
<circle cx="239.0" cy="270.0" r="1.98" fill="#ff0000" stroke="#1a1aff" stroke-width="0.32"/>
<circle cx="240.0" cy="272.0" r="1.98" fill="#ff0000" stroke="#1a1aff" stroke-width="0.32"/>
<circle cx="237.4" cy="275.1" r="1.98" fill="#ff0000" stroke="#1a1aff" stroke-width="0.32"/>
<circle cx="240.5" cy="275.6" r="1.98" fill="#ff0000" stroke="#1a1aff" stroke-width="0.32"/>
<circle cx="243.1" cy="274.0" r="1.98" fill="#ff0000" stroke="#1a1aff" stroke-width="0.32"/>
<circle cx="244.6" cy="276.6" r="1.98" fill="#ff0000" stroke="#1a1aff" stroke-width="0.32"/>
<circle cx="242.0" cy="277.6" r="1.98" fill="#ff0000" stroke="#1a1aff" stroke-width="0.32"/>
<circle cx="245.6" cy="278.6" r="1.98" fill="#ff0000" stroke="#1a1aff" stroke-width="0.32"/>
<circle cx="248.2" cy="277.1" r="1.98" fill="#ff0000" stroke="#1a1aff" stroke-width="0.32"/>
<circle cx="248.7" cy="279.2" r="1.98" fill="#ff0000" stroke="#1a1aff" stroke-width="0.32"/>
<circle cx="249.7" cy="278.1" r="1.98" fill="#ff0000" stroke="#1a1aff" stroke-width="0.32"/>
<circle cx="240.0" cy="278.1" r="1.98" fill="#ff0000" stroke="#1a1aff" stroke-width="0.32"/>
<ellipse cx="91.4" cy="202.4" rx="3.2" ry="2.7" fill="#4a2ec0"/>
<circle cx="92.4" cy="202.3" r="1.9" fill="#ff0000"/>
<rect x="24.05" y="12.7" width="247.45" height="282.80" fill="none" stroke="#bdbdbd" stroke-width="1.4"/>
<line x1="24.05" y1="295.5" x2="24.05" y2="293.0" stroke="#808080" stroke-width="0.8"/>
<line x1="24.05" y1="12.7" x2="24.05" y2="15.2" stroke="#808080" stroke-width="0.8"/>
<text x="24.05" y="305.10" text-anchor="middle" font-size="6.4" fill="#262626" style="stroke-width:0.05px"><tspan style="letter-spacing:-1.75px">−</tspan>4</text>
<line x1="51.54" y1="295.5" x2="51.54" y2="293.0" stroke="#808080" stroke-width="0.8"/>
<line x1="51.54" y1="12.7" x2="51.54" y2="15.2" stroke="#808080" stroke-width="0.8"/>
<text x="51.54" y="305.10" text-anchor="middle" font-size="6.4" fill="#262626" style="stroke-width:0.05px"><tspan style="letter-spacing:-1.75px">−</tspan>2</text>
<line x1="79.04" y1="295.5" x2="79.04" y2="293.0" stroke="#808080" stroke-width="0.8"/>
<line x1="79.04" y1="12.7" x2="79.04" y2="15.2" stroke="#808080" stroke-width="0.8"/>
<text x="79.04" y="305.10" text-anchor="middle" font-size="6.4" fill="#262626" style="stroke-width:0.05px">0</text>
<line x1="106.53" y1="295.5" x2="106.53" y2="293.0" stroke="#808080" stroke-width="0.8"/>
<line x1="106.53" y1="12.7" x2="106.53" y2="15.2" stroke="#808080" stroke-width="0.8"/>
<text x="106.53" y="305.10" text-anchor="middle" font-size="6.4" fill="#262626" style="stroke-width:0.05px">2</text>
<line x1="134.03" y1="295.5" x2="134.03" y2="293.0" stroke="#808080" stroke-width="0.8"/>
<line x1="134.03" y1="12.7" x2="134.03" y2="15.2" stroke="#808080" stroke-width="0.8"/>
<text x="134.03" y="305.10" text-anchor="middle" font-size="6.4" fill="#262626" style="stroke-width:0.05px">4</text>
<line x1="161.52" y1="295.5" x2="161.52" y2="293.0" stroke="#808080" stroke-width="0.8"/>
<line x1="161.52" y1="12.7" x2="161.52" y2="15.2" stroke="#808080" stroke-width="0.8"/>
<text x="161.52" y="305.10" text-anchor="middle" font-size="6.4" fill="#262626" style="stroke-width:0.05px">6</text>
<line x1="189.02" y1="295.5" x2="189.02" y2="293.0" stroke="#808080" stroke-width="0.8"/>
<line x1="189.02" y1="12.7" x2="189.02" y2="15.2" stroke="#808080" stroke-width="0.8"/>
<text x="189.02" y="305.10" text-anchor="middle" font-size="6.4" fill="#262626" style="stroke-width:0.05px">8</text>
<line x1="216.51" y1="295.5" x2="216.51" y2="293.0" stroke="#808080" stroke-width="0.8"/>
<line x1="216.51" y1="12.7" x2="216.51" y2="15.2" stroke="#808080" stroke-width="0.8"/>
<text x="216.51" y="305.10" text-anchor="middle" font-size="6.4" fill="#262626" style="stroke-width:0.05px">10</text>
<line x1="244.01" y1="295.5" x2="244.01" y2="293.0" stroke="#808080" stroke-width="0.8"/>
<line x1="244.01" y1="12.7" x2="244.01" y2="15.2" stroke="#808080" stroke-width="0.8"/>
<text x="244.01" y="305.10" text-anchor="middle" font-size="6.4" fill="#262626" style="stroke-width:0.05px">12</text>
<line x1="271.50" y1="295.5" x2="271.50" y2="293.0" stroke="#808080" stroke-width="0.8"/>
<line x1="271.50" y1="12.7" x2="271.50" y2="15.2" stroke="#808080" stroke-width="0.8"/>
<text x="271.50" y="305.10" text-anchor="middle" font-size="6.4" fill="#262626" style="stroke-width:0.05px">14</text>
<line x1="24.05" y1="295.50" x2="26.55" y2="295.50" stroke="#808080" stroke-width="0.8"/>
<line x1="271.5" y1="295.50" x2="269.0" y2="295.50" stroke="#808080" stroke-width="0.8"/>
<text x="21.35" y="297.80" text-anchor="end" font-size="6.4" fill="#262626" style="stroke-width:0.05px"><tspan style="letter-spacing:-1.75px">−</tspan>6</text>
<line x1="24.05" y1="267.22" x2="26.55" y2="267.22" stroke="#808080" stroke-width="0.8"/>
<line x1="271.5" y1="267.22" x2="269.0" y2="267.22" stroke="#808080" stroke-width="0.8"/>
<text x="21.35" y="269.52" text-anchor="end" font-size="6.4" fill="#262626" style="stroke-width:0.05px"><tspan style="letter-spacing:-1.75px">−</tspan>4</text>
<line x1="24.05" y1="238.94" x2="26.55" y2="238.94" stroke="#808080" stroke-width="0.8"/>
<line x1="271.5" y1="238.94" x2="269.0" y2="238.94" stroke="#808080" stroke-width="0.8"/>
<text x="21.35" y="241.24" text-anchor="end" font-size="6.4" fill="#262626" style="stroke-width:0.05px"><tspan style="letter-spacing:-1.75px">−</tspan>2</text>
<line x1="24.05" y1="210.66" x2="26.55" y2="210.66" stroke="#808080" stroke-width="0.8"/>
<line x1="271.5" y1="210.66" x2="269.0" y2="210.66" stroke="#808080" stroke-width="0.8"/>
<text x="21.35" y="212.96" text-anchor="end" font-size="6.4" fill="#262626" style="stroke-width:0.05px">0</text>
<line x1="24.05" y1="182.38" x2="26.55" y2="182.38" stroke="#808080" stroke-width="0.8"/>
<line x1="271.5" y1="182.38" x2="269.0" y2="182.38" stroke="#808080" stroke-width="0.8"/>
<text x="21.35" y="184.68" text-anchor="end" font-size="6.4" fill="#262626" style="stroke-width:0.05px">2</text>
<line x1="24.05" y1="154.10" x2="26.55" y2="154.10" stroke="#808080" stroke-width="0.8"/>
<line x1="271.5" y1="154.10" x2="269.0" y2="154.10" stroke="#808080" stroke-width="0.8"/>
<text x="21.35" y="156.40" text-anchor="end" font-size="6.4" fill="#262626" style="stroke-width:0.05px">4</text>
<line x1="24.05" y1="125.82" x2="26.55" y2="125.82" stroke="#808080" stroke-width="0.8"/>
<line x1="271.5" y1="125.82" x2="269.0" y2="125.82" stroke="#808080" stroke-width="0.8"/>
<text x="21.35" y="128.12" text-anchor="end" font-size="6.4" fill="#262626" style="stroke-width:0.05px">6</text>
<line x1="24.05" y1="97.54" x2="26.55" y2="97.54" stroke="#808080" stroke-width="0.8"/>
<line x1="271.5" y1="97.54" x2="269.0" y2="97.54" stroke="#808080" stroke-width="0.8"/>
<text x="21.35" y="99.84" text-anchor="end" font-size="6.4" fill="#262626" style="stroke-width:0.05px">8</text>
<line x1="24.05" y1="69.26" x2="26.55" y2="69.26" stroke="#808080" stroke-width="0.8"/>
<line x1="271.5" y1="69.26" x2="269.0" y2="69.26" stroke="#808080" stroke-width="0.8"/>
<text x="21.35" y="71.56" text-anchor="end" font-size="6.4" fill="#262626" style="stroke-width:0.05px">10</text>
<line x1="24.05" y1="40.98" x2="26.55" y2="40.98" stroke="#808080" stroke-width="0.8"/>
<line x1="271.5" y1="40.98" x2="269.0" y2="40.98" stroke="#808080" stroke-width="0.8"/>
<text x="21.35" y="43.28" text-anchor="end" font-size="6.4" fill="#262626" style="stroke-width:0.05px">12</text>
<line x1="24.05" y1="12.70" x2="26.55" y2="12.70" stroke="#808080" stroke-width="0.8"/>
<line x1="271.5" y1="12.70" x2="269.0" y2="12.70" stroke="#808080" stroke-width="0.8"/>
<text x="21.35" y="15.00" text-anchor="end" font-size="6.4" fill="#262626" style="stroke-width:0.05px">14</text>
<text x="147.78" y="10.30" text-anchor="middle" font-size="7.04" fill="#262626">Hard-SVM Training</text>
<text x="147.78" y="314.40" text-anchor="middle" font-size="7.04" fill="#262626">Dimension1</text>
<rect x="181.4" y="17.4" width="84.30" height="26.10" fill="#ffffff" stroke="#b0b0b0" stroke-width="0.8"/>
<circle cx="193.0" cy="22.5" r="2.12" fill="#ff0000"/>
<circle cx="193.0" cy="30.7" r="1.98" fill="#ff0000" stroke="#1a1aff" stroke-width="0.32"/>
<line x1="184.1" y1="38.4" x2="202.6" y2="38.4" stroke="#f5d49a" stroke-width="0.8"/>
<text x="204.1" y="24.40" font-size="5.88" fill="#262626">A9 for training</text>
<text x="204.1" y="32.50" font-size="5.88" fill="#262626">A13 for training</text>
<text x="204.1" y="40.60" font-size="5.88" fill="#262626">Separating Hyperplane</text>
<line x1="320.48" y1="12.6" x2="320.48" y2="295.6" stroke="#efefef" stroke-width="0.8"/>
<line x1="345.26" y1="12.6" x2="345.26" y2="295.6" stroke="#efefef" stroke-width="0.8"/>
<line x1="370.04" y1="12.6" x2="370.04" y2="295.6" stroke="#efefef" stroke-width="0.8"/>
<line x1="394.82" y1="12.6" x2="394.82" y2="295.6" stroke="#efefef" stroke-width="0.8"/>
<line x1="419.60" y1="12.6" x2="419.60" y2="295.6" stroke="#efefef" stroke-width="0.8"/>
<line x1="444.38" y1="12.6" x2="444.38" y2="295.6" stroke="#efefef" stroke-width="0.8"/>
<line x1="469.16" y1="12.6" x2="469.16" y2="295.6" stroke="#efefef" stroke-width="0.8"/>
<line x1="493.94" y1="12.6" x2="493.94" y2="295.6" stroke="#efefef" stroke-width="0.8"/>
<line x1="518.72" y1="12.6" x2="518.72" y2="295.6" stroke="#efefef" stroke-width="0.8"/>
<line x1="295.7" y1="201.27" x2="543.5" y2="201.27" stroke="#efefef" stroke-width="0.8"/>
<line x1="295.7" y1="106.93" x2="543.5" y2="106.93" stroke="#efefef" stroke-width="0.8"/>
<line x1="345.10" y1="179.00" x2="518.70" y2="187.50" stroke="#cfaadc" stroke-width="0.8" stroke-dasharray="3,1.9"/>
<line x1="345.10" y1="205.30" x2="518.70" y2="214.00" stroke="#fbd79c" stroke-width="0.8"/>
<line x1="345.10" y1="232.10" x2="518.70" y2="240.60" stroke="#c6dca8" stroke-width="0.8" stroke-dasharray="3,1.9"/>
<circle cx="409.0" cy="67.7" r="2.12" fill="#ff0000"/>
<circle cx="410.5" cy="73.8" r="2.12" fill="#ff0000"/>
<circle cx="410.7" cy="77.5" r="2.12" fill="#ff0000"/>
<circle cx="407.9" cy="85.3" r="2.12" fill="#ff0000"/>
<circle cx="409.3" cy="87.4" r="2.12" fill="#ff0000"/>
<circle cx="410.5" cy="90.1" r="2.12" fill="#ff0000"/>
<circle cx="410.5" cy="92.9" r="2.12" fill="#ff0000"/>
<circle cx="409.9" cy="95.8" r="2.12" fill="#ff0000"/>
<circle cx="406.5" cy="96.9" r="2.12" fill="#ff0000"/>
<circle cx="406.1" cy="101.4" r="2.12" fill="#ff0000"/>
<circle cx="409.5" cy="102.2" r="2.12" fill="#ff0000"/>
<circle cx="404.0" cy="111.6" r="2.12" fill="#ff0000"/>
<circle cx="406.4" cy="111.9" r="2.12" fill="#ff0000"/>
<circle cx="409.2" cy="111.6" r="2.12" fill="#ff0000"/>
<circle cx="405.0" cy="120.5" r="2.12" fill="#ff0000"/>
<circle cx="405.8" cy="123.0" r="2.12" fill="#ff0000"/>
<circle cx="404.6" cy="128.7" r="2.12" fill="#ff0000"/>
<circle cx="409.6" cy="215.6" r="2.12" fill="#ff0000"/>
<circle cx="425.3" cy="215.3" r="2.12" fill="#ff0000"/>
<circle cx="423.6" cy="217.9" r="2.12" fill="#ff0000"/>
<circle cx="423.3" cy="220.6" r="2.12" fill="#ff0000"/>
<circle cx="425.3" cy="219.6" r="2.12" fill="#ff0000"/>
<circle cx="427.6" cy="220.3" r="2.12" fill="#ff0000"/>
<circle cx="430.6" cy="216.9" r="2.12" fill="#ff0000"/>
<circle cx="431.6" cy="219.3" r="2.12" fill="#ff0000"/>
<circle cx="432.6" cy="221.6" r="2.12" fill="#ff0000"/>
<circle cx="437.2" cy="222.6" r="2.12" fill="#ff0000"/>
<circle cx="442.2" cy="224.2" r="2.12" fill="#ff0000"/>
<circle cx="448.6" cy="226.4" r="2.12" fill="#ff0000"/>
<circle cx="449.5" cy="227.9" r="2.12" fill="#ff0000"/>
<circle cx="453.1" cy="229.0" r="2.12" fill="#ff0000"/>
<circle cx="458.5" cy="231.3" r="2.12" fill="#ff0000"/>
<circle cx="470.4" cy="237.2" r="2.12" fill="#ff0000"/>
<circle cx="490.6" cy="229.4" r="2.12" fill="#ff0000"/>
<circle cx="491.4" cy="234.2" r="2.12" fill="#ff0000"/>
<circle cx="492.7" cy="235.6" r="2.12" fill="#ff0000"/>
<circle cx="493.4" cy="238.9" r="2.12" fill="#ff0000"/>
<circle cx="494.4" cy="240.8" r="2.12" fill="#ff0000"/>
<circle cx="487.0" cy="246.2" r="2.12" fill="#ff0000"/>
<circle cx="495.2" cy="248.3" r="2.12" fill="#ff0000"/>
<circle cx="387.4" cy="43.6" r="1.98" fill="#ff0000" stroke="#1a1aff" stroke-width="0.32"/>
<circle cx="415.1" cy="48.5" r="1.98" fill="#ff0000" stroke="#1a1aff" stroke-width="0.32"/>
<circle cx="421.4" cy="68.0" r="1.98" fill="#ff0000" stroke="#1a1aff" stroke-width="0.32"/>
<circle cx="375.4" cy="87.4" r="1.98" fill="#ff0000" stroke="#1a1aff" stroke-width="0.32"/>
<circle cx="342.4" cy="106.5" r="1.98" fill="#ff0000" stroke="#1a1aff" stroke-width="0.32"/>
<circle cx="396.8" cy="110.0" r="1.98" fill="#ff0000" stroke="#1a1aff" stroke-width="0.32"/>
<circle cx="432.2" cy="103.9" r="1.98" fill="#ff0000" stroke="#1a1aff" stroke-width="0.32"/>
<circle cx="328.8" cy="140.7" r="1.98" fill="#ff0000" stroke="#1a1aff" stroke-width="0.32"/>
<circle cx="440.4" cy="168.3" r="1.98" fill="#ff0000" stroke="#1a1aff" stroke-width="0.32"/>
<circle cx="309.0" cy="237.3" r="1.98" fill="#ff0000" stroke="#1a1aff" stroke-width="0.32"/>
<circle cx="372.9" cy="241.5" r="1.98" fill="#ff0000" stroke="#1a1aff" stroke-width="0.32"/>
<circle cx="399.4" cy="240.1" r="1.98" fill="#ff0000" stroke="#1a1aff" stroke-width="0.32"/>
<circle cx="402.6" cy="242.7" r="1.98" fill="#ff0000" stroke="#1a1aff" stroke-width="0.32"/>
<circle cx="441.0" cy="241.0" r="1.98" fill="#ff0000" stroke="#1a1aff" stroke-width="0.32"/>
<circle cx="441.0" cy="245.0" r="1.98" fill="#ff0000" stroke="#1a1aff" stroke-width="0.32"/>
<circle cx="449.5" cy="236.5" r="1.98" fill="#ff0000" stroke="#1a1aff" stroke-width="0.32"/>
<circle cx="456.2" cy="239.7" r="1.98" fill="#ff0000" stroke="#1a1aff" stroke-width="0.32"/>
<circle cx="468.9" cy="206.9" r="1.98" fill="#ff0000" stroke="#1a1aff" stroke-width="0.32"/>
<circle cx="462.1" cy="216.2" r="1.98" fill="#ff0000" stroke="#1a1aff" stroke-width="0.32"/>
<circle cx="474.9" cy="214.4" r="1.98" fill="#ff0000" stroke="#1a1aff" stroke-width="0.32"/>
<circle cx="474.4" cy="221.5" r="1.98" fill="#ff0000" stroke="#1a1aff" stroke-width="0.32"/>
<circle cx="478.5" cy="227.3" r="1.98" fill="#ff0000" stroke="#1a1aff" stroke-width="0.32"/>
<circle cx="479.8" cy="234.2" r="1.98" fill="#ff0000" stroke="#1a1aff" stroke-width="0.32"/>
<circle cx="482.8" cy="233.1" r="1.98" fill="#ff0000" stroke="#1a1aff" stroke-width="0.32"/>
<circle cx="480.6" cy="241.7" r="1.98" fill="#ff0000" stroke="#1a1aff" stroke-width="0.32"/>
<circle cx="481.4" cy="244.4" r="1.98" fill="#ff0000" stroke="#1a1aff" stroke-width="0.32"/>
<circle cx="482.3" cy="247.1" r="1.98" fill="#ff0000" stroke="#1a1aff" stroke-width="0.32"/>
<circle cx="493.9" cy="251.2" r="1.98" fill="#ff0000" stroke="#1a1aff" stroke-width="0.32"/>
<circle cx="501.2" cy="249.5" r="1.98" fill="#ff0000" stroke="#1a1aff" stroke-width="0.32"/>
<circle cx="498.5" cy="254.7" r="1.98" fill="#ff0000" stroke="#1a1aff" stroke-width="0.32"/>
<circle cx="505.0" cy="252.5" r="1.98" fill="#ff0000" stroke="#1a1aff" stroke-width="0.32"/>
<circle cx="496.7" cy="260.2" r="1.98" fill="#ff0000" stroke="#1a1aff" stroke-width="0.32"/>
<circle cx="506.8" cy="263.1" r="1.98" fill="#ff0000" stroke="#1a1aff" stroke-width="0.32"/>
<circle cx="511.4" cy="264.4" r="1.98" fill="#ff0000" stroke="#1a1aff" stroke-width="0.32"/>
<circle cx="515.1" cy="266.3" r="1.98" fill="#ff0000" stroke="#1a1aff" stroke-width="0.32"/>
<circle cx="516.9" cy="263.5" r="1.98" fill="#ff0000" stroke="#1a1aff" stroke-width="0.32"/>
<circle cx="518.2" cy="260.7" r="1.98" fill="#ff0000" stroke="#1a1aff" stroke-width="0.32"/>
<circle cx="521.3" cy="263.5" r="1.98" fill="#ff0000" stroke="#1a1aff" stroke-width="0.32"/>
<circle cx="523.2" cy="266.3" r="1.98" fill="#ff0000" stroke="#1a1aff" stroke-width="0.32"/>
<circle cx="526.1" cy="268.6" r="1.98" fill="#ff0000" stroke="#1a1aff" stroke-width="0.32"/>
<circle cx="528.3" cy="271.4" r="1.98" fill="#ff0000" stroke="#1a1aff" stroke-width="0.32"/>
<circle cx="529.8" cy="273.6" r="1.98" fill="#ff0000" stroke="#1a1aff" stroke-width="0.32"/>
<circle cx="532.9" cy="277.6" r="1.98" fill="#ff0000" stroke="#1a1aff" stroke-width="0.32"/>
<circle cx="535.3" cy="278.6" r="1.98" fill="#ff0000" stroke="#1a1aff" stroke-width="0.32"/>
<circle cx="538.0" cy="283.2" r="1.98" fill="#ff0000" stroke="#1a1aff" stroke-width="0.32"/>
<circle cx="542.1" cy="285.0" r="1.98" fill="#ff0000" stroke="#1a1aff" stroke-width="0.32"/>
<rect x="295.7" y="12.6" width="247.80" height="283.00" fill="none" stroke="#bdbdbd" stroke-width="1.4"/>
<line x1="295.70" y1="295.6" x2="295.70" y2="293.1" stroke="#808080" stroke-width="0.8"/>
<line x1="295.70" y1="12.6" x2="295.70" y2="15.1" stroke="#808080" stroke-width="0.8"/>
<text x="295.70" y="305.20" text-anchor="middle" font-size="6.4" fill="#262626" style="stroke-width:0.05px"><tspan style="letter-spacing:-1.75px">−</tspan>8</text>
<line x1="320.48" y1="295.6" x2="320.48" y2="293.1" stroke="#808080" stroke-width="0.8"/>
<line x1="320.48" y1="12.6" x2="320.48" y2="15.1" stroke="#808080" stroke-width="0.8"/>
<text x="320.48" y="305.20" text-anchor="middle" font-size="6.4" fill="#262626" style="stroke-width:0.05px"><tspan style="letter-spacing:-1.75px">−</tspan>6</text>
<line x1="345.26" y1="295.6" x2="345.26" y2="293.1" stroke="#808080" stroke-width="0.8"/>
<line x1="345.26" y1="12.6" x2="345.26" y2="15.1" stroke="#808080" stroke-width="0.8"/>
<text x="345.26" y="305.20" text-anchor="middle" font-size="6.4" fill="#262626" style="stroke-width:0.05px"><tspan style="letter-spacing:-1.75px">−</tspan>4</text>
<line x1="370.04" y1="295.6" x2="370.04" y2="293.1" stroke="#808080" stroke-width="0.8"/>
<line x1="370.04" y1="12.6" x2="370.04" y2="15.1" stroke="#808080" stroke-width="0.8"/>
<text x="370.04" y="305.20" text-anchor="middle" font-size="6.4" fill="#262626" style="stroke-width:0.05px"><tspan style="letter-spacing:-1.75px">−</tspan>2</text>
<line x1="394.82" y1="295.6" x2="394.82" y2="293.1" stroke="#808080" stroke-width="0.8"/>
<line x1="394.82" y1="12.6" x2="394.82" y2="15.1" stroke="#808080" stroke-width="0.8"/>
<text x="394.82" y="305.20" text-anchor="middle" font-size="6.4" fill="#262626" style="stroke-width:0.05px">0</text>
<line x1="419.60" y1="295.6" x2="419.60" y2="293.1" stroke="#808080" stroke-width="0.8"/>
<line x1="419.60" y1="12.6" x2="419.60" y2="15.1" stroke="#808080" stroke-width="0.8"/>
<text x="419.60" y="305.20" text-anchor="middle" font-size="6.4" fill="#262626" style="stroke-width:0.05px">2</text>
<line x1="444.38" y1="295.6" x2="444.38" y2="293.1" stroke="#808080" stroke-width="0.8"/>
<line x1="444.38" y1="12.6" x2="444.38" y2="15.1" stroke="#808080" stroke-width="0.8"/>
<text x="444.38" y="305.20" text-anchor="middle" font-size="6.4" fill="#262626" style="stroke-width:0.05px">4</text>
<line x1="469.16" y1="295.6" x2="469.16" y2="293.1" stroke="#808080" stroke-width="0.8"/>
<line x1="469.16" y1="12.6" x2="469.16" y2="15.1" stroke="#808080" stroke-width="0.8"/>
<text x="469.16" y="305.20" text-anchor="middle" font-size="6.4" fill="#262626" style="stroke-width:0.05px">6</text>
<line x1="493.94" y1="295.6" x2="493.94" y2="293.1" stroke="#808080" stroke-width="0.8"/>
<line x1="493.94" y1="12.6" x2="493.94" y2="15.1" stroke="#808080" stroke-width="0.8"/>
<text x="493.94" y="305.20" text-anchor="middle" font-size="6.4" fill="#262626" style="stroke-width:0.05px">8</text>
<line x1="518.72" y1="295.6" x2="518.72" y2="293.1" stroke="#808080" stroke-width="0.8"/>
<line x1="518.72" y1="12.6" x2="518.72" y2="15.1" stroke="#808080" stroke-width="0.8"/>
<text x="518.72" y="305.20" text-anchor="middle" font-size="6.4" fill="#262626" style="stroke-width:0.05px">10</text>
<line x1="543.50" y1="295.6" x2="543.50" y2="293.1" stroke="#808080" stroke-width="0.8"/>
<line x1="543.50" y1="12.6" x2="543.50" y2="15.1" stroke="#808080" stroke-width="0.8"/>
<text x="543.50" y="305.20" text-anchor="middle" font-size="6.4" fill="#262626" style="stroke-width:0.05px">12</text>
<line x1="295.7" y1="295.60" x2="298.2" y2="295.60" stroke="#808080" stroke-width="0.8"/>
<line x1="543.5" y1="295.60" x2="541.0" y2="295.60" stroke="#808080" stroke-width="0.8"/>
<text x="293.00" y="297.90" text-anchor="end" font-size="6.4" fill="#262626" style="stroke-width:0.05px"><tspan style="letter-spacing:-1.75px">−</tspan>5</text>
<line x1="295.7" y1="201.27" x2="298.2" y2="201.27" stroke="#808080" stroke-width="0.8"/>
<line x1="543.5" y1="201.27" x2="541.0" y2="201.27" stroke="#808080" stroke-width="0.8"/>
<text x="293.00" y="203.57" text-anchor="end" font-size="6.4" fill="#262626" style="stroke-width:0.05px">0</text>
<line x1="295.7" y1="106.93" x2="298.2" y2="106.93" stroke="#808080" stroke-width="0.8"/>
<line x1="543.5" y1="106.93" x2="541.0" y2="106.93" stroke="#808080" stroke-width="0.8"/>
<text x="293.00" y="109.23" text-anchor="end" font-size="6.4" fill="#262626" style="stroke-width:0.05px">5</text>
<line x1="295.7" y1="12.60" x2="298.2" y2="12.60" stroke="#808080" stroke-width="0.8"/>
<line x1="543.5" y1="12.60" x2="541.0" y2="12.60" stroke="#808080" stroke-width="0.8"/>
<text x="293.00" y="14.90" text-anchor="end" font-size="6.4" fill="#262626" style="stroke-width:0.05px">10</text>
<text x="419.60" y="10.20" text-anchor="middle" font-size="7.04" fill="#262626">Hard-SVM Testing</text>
<text x="419.60" y="314.50" text-anchor="middle" font-size="7.04" fill="#262626">Dimension1</text>
<rect x="454.3" y="17.3" width="84.60" height="25.80" fill="#ffffff" stroke="#b0b0b0" stroke-width="0.8"/>
<circle cx="465.9" cy="22.5" r="2.12" fill="#ff0000"/>
<circle cx="465.9" cy="30.7" r="1.98" fill="#ff0000" stroke="#1a1aff" stroke-width="0.32"/>
<line x1="457.0" y1="38.4" x2="475.5" y2="38.4" stroke="#f5d49a" stroke-width="0.8"/>
<text x="477.0" y="24.40" font-size="5.88" fill="#262626">A9 for testing</text>
<text x="477.0" y="32.50" font-size="5.88" fill="#262626">A13 for testing</text>
<text x="477.0" y="40.60" font-size="5.88" fill="#262626">Separating Hyperplane</text>
<text transform="translate(10.6,153.8) rotate(-90)" text-anchor="middle" font-size="7.04" fill="#262626">Dimension2</text>
<text transform="translate(281.2,153.9) rotate(-90)" text-anchor="middle" font-size="7.04" fill="#262626">Dimension2</text>
<text x="140.0" y="327.3" text-anchor="middle" font-family="Liberation Serif, Times New Roman, serif" font-weight="bold" font-size="10.8" fill="#000" style="stroke:none">(a)</text>
<text x="411.8" y="327.3" text-anchor="middle" font-family="Liberation Serif, Times New Roman, serif" font-weight="bold" font-size="10.8" fill="#000" style="stroke:none">(b)</text>
</svg>
</body></html>
